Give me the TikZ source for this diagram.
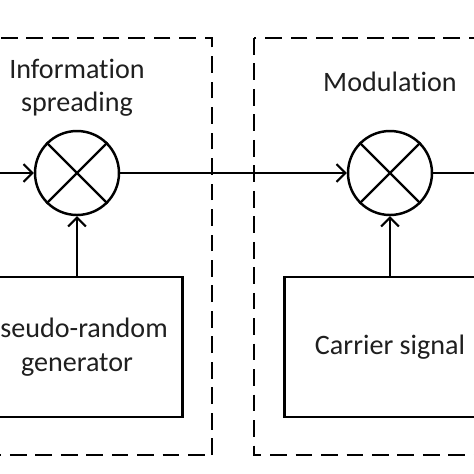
\documentclass[tikz,border=0pt]{standalone}
\usepackage{fontspec}
\setmainfont[Ligatures=NoCommon]{Carlito}
\usepackage{tikz}
\usetikzlibrary{arrows.meta, positioning}

\begin{document}
\begin{tikzpicture}[
        x=0.02cm, y=-0.02cm,
        line width=1.4pt,
        mixer/.style={circle, draw, minimum size=1.68cm, inner sep=0pt},
        box/.style={rectangle, draw, minimum width=4.22cm, minimum height=2.81cm, align=center},
        area/.style={draw, dash pattern=on 9.5pt off 5pt, line width=1.3pt},
        label/.style={align=center, font=\fontsize{16}{19}\selectfont, text=black!88},
        arrow/.style={-{Straight Barb[length=5pt, width=10pt, line width=1.2pt]}}
    ]
        \useasboundingbox (0,0) rectangle (474,474);
        \clip (0,0) rectangle (474,474);
        \fill[white] (0,0) rectangle (474,474);

        % dashed regions
        \draw[area] (212,455) -- (212,38) -- (-58,38) -- (-58,455) -- cycle;
        \draw[area] (254,38) -- (254,455) -- (526,455) -- (526,38) -- cycle;
        \node[label] (T1) at (77,88) {Information\\spreading};
        \node[label] (T2) at (390,82) {Modulation};

        % mixers
        \node[mixer] (X1) at (77,173) {};
        \node[mixer] (X2) at (390,173) {};
        \draw (X1.45) -- (X1.225) (X1.135) -- (X1.-45);
        \draw (X2.45) -- (X2.225) (X2.135) -- (X2.-45);

        % sources
        \node[box, label] (G) at (77,347) {Pseudo-random\\generator};
        \node[box, label] (C) at (390,347) {Carrier signal};

        \coordinate (in) at (-20,173);
        \coordinate (out) at (500,173);
        \draw[arrow] (in) -- (X1);
        \draw[arrow] (X1) -- (X2);
        \draw (X2) -- (out);
        \draw[arrow] (G) -- (X1);
        \draw[arrow] (C) -- (X2);
    \end{tikzpicture}
\end{document}
